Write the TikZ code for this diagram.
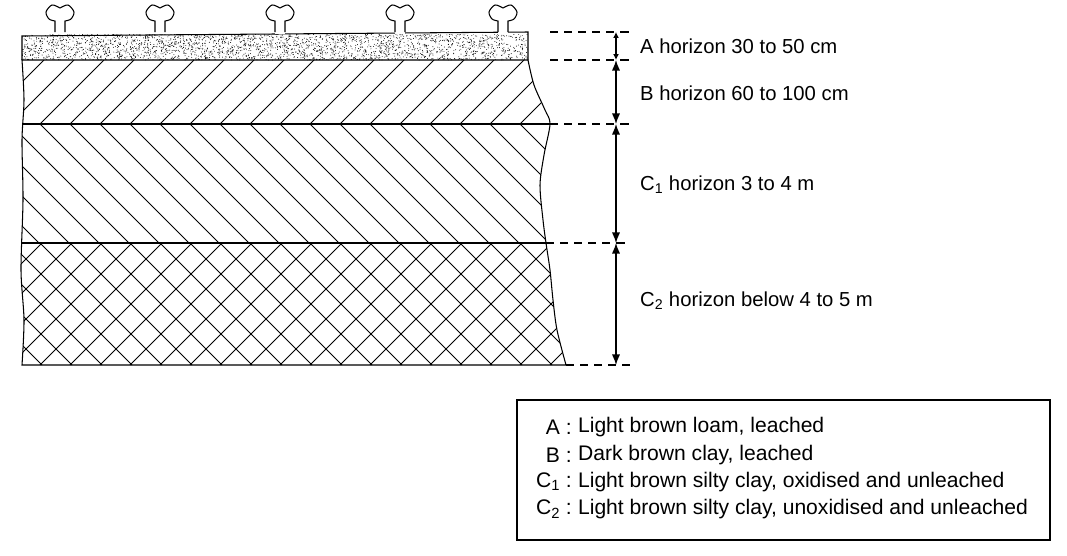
\documentclass[tikz,border=0pt]{standalone}
\usepackage{fontspec}
\setmainfont{Liberation Sans}
\usetikzlibrary{arrows.meta, positioning}
\tikzstyle{layer} = [line width=0.9pt, black]
\tikzstyle{hatch} = [line width=0.7pt, black]
\tikzstyle{level} = [dashed, dash pattern=on 7pt off 5pt, line width=0.9pt]
\tikzstyle{dim} = [line width=1pt, {Latex[length=9pt,width=7pt]}-{Latex[length=9pt,width=7pt]}]
\tikzstyle{horizon} = [anchor=west, inner sep=0pt, font=\fontsize{17.3}{20}\selectfont]
\tikzstyle{entry} = [anchor=west, inner sep=0pt, font=\fontsize{18}{21}\selectfont]
\tikzstyle{key} = [anchor=east, inner sep=0pt, font=\fontsize{18}{21}\selectfont]
\newcommand{\soilrim}{(22,60) -- (528,60) -- plot[smooth] coordinates {(528,60) (534,85) (545,110) (550,124) (544,155) (540,185) (543,220) (546,243) (550,270) (553,300) (557,330) (566,365)} -- (22,365) -- plot[smooth] coordinates {(22,365) (24,320) (21,270) (23,200) (22,140) (24,100) (22,60)} -- cycle}

\begin{document}
\begin{tikzpicture}[x=0.03cm, y=-0.03cm]
        \useasboundingbox (0,0) rectangle (1067,555);
        % Levels
        \coordinate (lA) at (550,32);
        \coordinate (lB) at (550,60);
        \coordinate (lC) at (550,124);
        \coordinate (lD) at (546,243);
        \coordinate (lE) at (566,365);
        \foreach \n/\y in {tA/32, tB/60, tC/124, tD/243, tE/365}
            \coordinate (\n) at (630,\y);
        \foreach \n/\y in {aA/32, aB/60, aC/124, aD/243, aE/365}
            \coordinate (\n) at (616,\y);

        % Hatching
        \begin{scope}
            \clip \soilrim;
            \clip (0,60) rectangle (600,124);
            \foreach \a in {-80,-50,...,560} \draw [hatch] (\a,124) -- (\a+64,60);
        \end{scope}
        \begin{scope}
            \clip \soilrim;
            \clip (0,124) rectangle (600,243);
            \foreach \a in {-140,-110,...,560} \draw [hatch] (\a,124) -- (\a+119,243);
        \end{scope}
        \begin{scope}
            \clip \soilrim;
            \clip (0,243) rectangle (600,365);
            \foreach \a in {-140,-110,...,600} {
                \draw [hatch] (\a,243) -- (\a+122,365);
                \draw [hatch] (\a,365) -- (\a+122,243);
            }
        \end{scope}
        \draw [layer] \soilrim;
        \draw [layer] (22,124) -- (lC);
        \draw [layer] (22,243) -- (lD);

        % Top soil with dots
        \begin{scope}
            \clip (22,34) rectangle (528,60);
            \pgfmathsetseed{7}
            \foreach \i in {1,...,2600} {
                \pgfmathsetmacro{\px}{22+506*rnd}
                \pgfmathsetmacro{\py}{34+26*rnd}
                \fill (\px,\py) circle (0.4pt);
            }
        \end{scope}
        \draw [layer] (22,60) -- (22,36) -- (528,32) -- (528,60);

        % Plants
        \foreach \x in {60,160,280,400,503} {
            \fill [white] (\x-5,20) rectangle (\x+5,34);
            \draw [layer, fill=white] (\x-5,32) -- (\x-5,21) -- plot[smooth] coordinates {(\x-5,21) (\x-11,19) (\x-14,12) (\x-8,5) (\x,8)} -- plot[smooth] coordinates {(\x,8) (\x+8,5) (\x+14,12) (\x+11,19) (\x+5,21)} -- (\x+5,32);
        }

        % Dimension lines
        \foreach \l/\t in {lA/tA, lB/tB, lC/tC, lD/tD, lE/tE}
            \draw [level] (\l) -- (\t);
        \draw [line width=1pt, {Latex[length=5pt,width=5pt]}-{Latex[length=5pt,width=5pt]}] (aA) -- (aB);
        \draw [dim] (aB) -- (aC);
        \draw [dim] (aC) -- (aD);
        \draw [dim] (aD) -- (aE);

        % Labels
        \node (hA) [horizon] at (640,46) {A horizon 30 to 50 cm};
        \node (hB) [horizon] at (640,93) {B horizon 60 to 100 cm};
        \node (hC) [horizon] at (640,185) {C\textsubscript{1} horizon 3 to 4 m};
        \node (hD) [horizon] at (640,301) {C\textsubscript{2} horizon below 4 to 5 m};

        % Legend
        \node (box) [draw, line width=1.2pt, minimum width=15.99cm, minimum height=4.2cm, inner sep=0pt] at (783.5,470) {};
        \node (kA) [key] at (572,427) {A :};
        \node (kB) [key] at (572,455) {B :};
        \node (kC) [key] at (572,482) {C\textsubscript{1} :};
        \node (kD) [key] at (572,509) {C\textsubscript{2} :};
        \node (dA) [entry, right=5pt of kA] {Light brown loam, leached};
        \node (dB) [entry, right=5pt of kB] {Dark brown clay, leached};
        \node (dC) [entry, right=5pt of kC] {Light brown silty clay, oxidised and unleached};
        \node (dD) [entry, right=5pt of kD] {Light brown silty clay, unoxidised and unleached};
\end{tikzpicture}
\end{document}
